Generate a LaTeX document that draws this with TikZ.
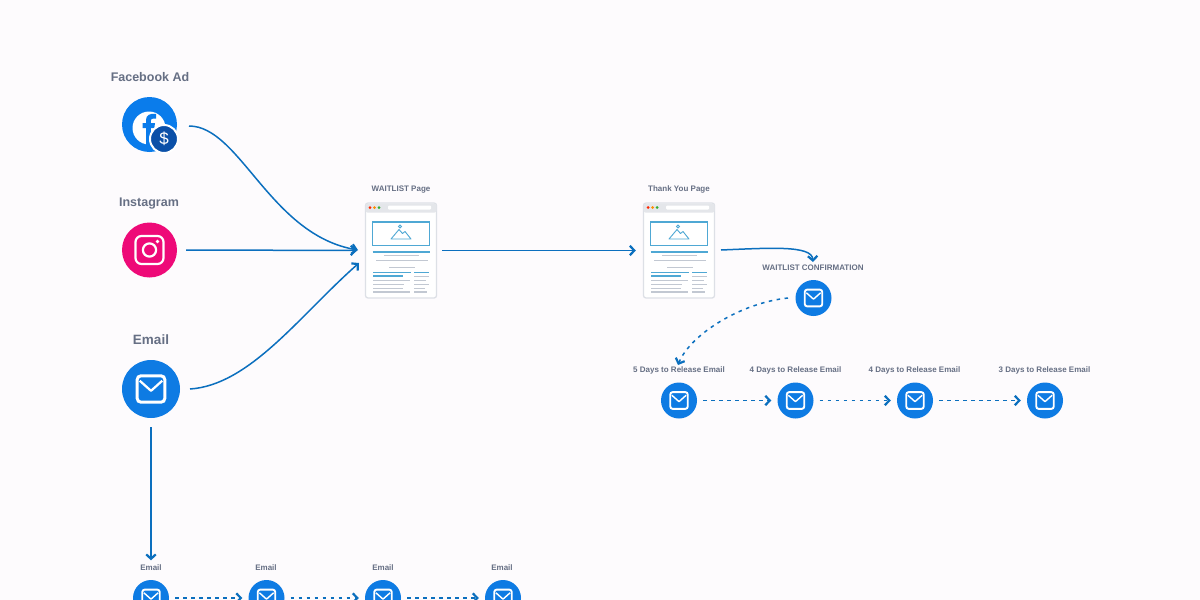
\documentclass[tikz,border=0pt]{standalone}
\usepackage{fontspec}
\setmainfont{Liberation Sans}
\usetikzlibrary{arrows.meta,calc}
\definecolor{bgc}{HTML}{FDFBFD}
\definecolor{fbblue}{HTML}{0A7CEB}
\definecolor{mailblue}{HTML}{0E7BE3}
\definecolor{linkc}{HTML}{0B6FBE}
\definecolor{darkb}{HTML}{0B50A8}
\definecolor{pinkc}{HTML}{EE0A78}
\definecolor{labelc}{HTML}{666F84}
\definecolor{greyl}{HTML}{C2C8D2}
\definecolor{pageb}{HTML}{DDE0E6}
\definecolor{pagebar}{HTML}{E4E6EA}
\definecolor{cyanl}{HTML}{4FA8D4}
\tikzset{
  x=1pt,y=-1pt,
  lab/.style={text=labelc,font=\bfseries\fontsize{#1}{#1}\selectfont,inner sep=0pt,anchor=center},
  lab/.default=8,
  mailc/.style={circle,fill=mailblue,draw=none,minimum size=#1,inner sep=0pt},
  conn/.style={draw=linkc,line width=1.5pt,-{Straight Barb[length=4.5pt,width=9.5pt,line width=2.2pt]}},
  dconn/.style={conn,dash pattern=on 3.5pt off 4.5pt},
  pagebox/.style={rectangle,rounded corners=2.5pt,draw=pageb,line width=1.3pt,fill=white,minimum width=71pt,minimum height=95pt,inner sep=0pt},
  hl/.style={draw=cyanl,line width=#1},
  hl/.default=2pt,
  gl/.style={draw=greyl,line width=1.3pt},
}
\newcommand{\mailicon}[3]{% x y half-width
  \begin{scope}[shift={(#1,#2)},scale=#3]
    \draw[white,line width=#3*0.2pt,rounded corners=#3*0.25pt,fill=none] (-0.92,-0.88) rectangle (0.92,0.88);
    \draw[white,line width=#3*0.15pt,line join=round] (-0.75,-0.55) -- (0,0.12) -- (0.75,-0.55);
  \end{scope}}
\newcommand{\pageicon}[2]{% centre x y
  \begin{scope}[shift={(#1,#2)}]
    \fill[pagebar,rounded corners=2pt] (-35.5,-47) rectangle (35.5,-38);
    \fill[red!70!orange] (-31,-43) circle (1.5);
    \fill[orange!90!yellow] (-26.5,-43) circle (1.5);
    \fill[green!60!black!80] (-22,-43) circle (1.5);
    \fill[white,rounded corners=1pt] (-13,-45) rectangle (30,-41);
    \draw[cyanl,line width=1.3pt,fill=white] (-28.5,-28.5) rectangle (28.5,-5);
    \draw[cyanl,line width=.9pt,line join=round] (-10,-11.5) -- (-2,-21) -- (1.5,-17) -- (4,-19) -- (10,-11.5) -- cycle;
    \draw[cyanl,line width=.8pt] (-1,-24) circle (1.5);
    \draw[hl] (-28.5,1) -- (28.5,1);
    \draw[gl] (-17,5) -- (18,5);
    \draw[gl] (-25,10) -- (27,10);
    \draw[gl] (-12,17) -- (14,17);
    \draw[hl,line width=1.4pt] (-28,22) -- (10,22);
    \draw[hl,line width=1.4pt] (13,22) -- (28,22);
    \draw[hl] (-28,25.5) -- (2,25.5);
    \draw[gl] (-28,30) -- (9,30);
    \draw[gl] (-28,34) -- (3,34);
    \draw[gl] (-28,38) -- (2,38);
    \draw[gl] (-28,41.5) -- (9,41.5);
    \draw[gl] (13,26) -- (28,26); \draw[gl] (13,30) -- (25,30);
    \draw[gl] (13,34) -- (28,34); \draw[gl] (13,38) -- (24,38); \draw[gl] (13,41.5) -- (26,41.5);
  \end{scope}}
\begin{document}
\begin{tikzpicture}
\useasboundingbox (0,0) rectangle (1200,600);
\fill[bgc] (0,0) rectangle (1200,600);

% sources
\node[lab=12.5] (fbl) at (150,77.5) {Facebook Ad};
\node[circle,fill=fbblue,minimum size=55pt,inner sep=0pt] (fb) at (149.5,124.5) {};
\fill[white] (149,128) circle (16.5);
\fill[fbblue] (146,146) -- (146,128) -- (142.5,128) -- (142.5,123) -- (146,123) -- (146,120)
  .. controls (146,115) and (150.5,113) .. (156,114) -- (156,118.5) -- (153.5,118.5)
  .. controls (151.5,118.5) and (150.8,119.5) .. (150.8,121) -- (150.8,123) -- (155,123) -- (154.3,128) -- (150.8,128) -- (150.8,146) -- cycle;
\node[circle,fill=darkb,draw=white,line width=2pt,minimum size=28pt,inner sep=0pt,text=white,font=\fontsize{17}{17}\selectfont] (usd) at (164,139) {\$};

\node[lab=12.5] (igl) at (149,203.5) {Instagram};
\node[circle,fill=pinkc,minimum size=55pt,inner sep=0pt] (ig) at (149.5,250) {};
\draw[white,line width=2.2pt,rounded corners=6pt] (135.5,236) rectangle (163.5,264);
\draw[white,line width=2.2pt] (149.5,250) circle (6.6);
\fill[white] (157.5,241.5) circle (1.8);

\node[lab=13.5] (eml) at (151,339.5) {Email};
\node[mailc=58pt] (em) at (151,389) {};
\mailicon{151}{389}{15}

% pages
\node[lab=8] (wll) at (401,189.5) {WAITLIST Page};
\node[pagebox] (wl) at (401,250.5) {};
\pageicon{401}{250.5}
\node[lab=8] (tyl) at (679,189.5) {Thank You Page};
\node[pagebox] (ty) at (679,250.5) {};
\pageicon{679}{250.5}

% confirmation
\node[lab=8] (wcl) at (813,268) {WAITLIST CONFIRMATION};
\node[mailc=36pt] (wc) at (813.5,298) {};
\mailicon{813.5}{298}{9.5}

% release row
\node[lab=8] (r1l) at (679,370) {5 Days to Release Email};
\node[mailc=36pt] (r1) at (679,400.5) {};
\mailicon{679}{400.5}{9.5}
\node[lab=8] (r2l) at (795.5,370) {4 Days to Release Email};
\node[mailc=36pt] (r2) at (795.5,400.5) {};
\mailicon{795.5}{400.5}{9.5}
\node[lab=8] (r3l) at (914.5,370) {4 Days to Release Email};
\node[mailc=36pt] (r3) at (915,400.5) {};
\mailicon{915}{400.5}{9.5}
\node[lab=8] (r4l) at (1044.5,370) {3 Days to Release Email};
\node[mailc=36pt] (r4) at (1045,400.5) {};
\mailicon{1045}{400.5}{9.5}

% bottom row
\node[lab=8] (b1l) at (151,567.5) {Email};
\node[mailc=36pt] (b1) at (151,598) {};
\mailicon{151}{598}{9.5}
\node[lab=8] (b2l) at (266,567.5) {Email};
\node[mailc=36pt] (b2) at (266.5,598) {};
\mailicon{266.5}{598}{9.5}
\node[lab=8] (b3l) at (383,567.5) {Email};
\node[mailc=36pt] (b3) at (383,598) {};
\mailicon{383}{598}{9.5}
\node[lab=8] (b4l) at (502,567.5) {Email};
\node[mailc=36pt] (b4) at (503,598) {};
\mailicon{503}{598}{9.5}

% connector ends
\coordinate (fbs) at (189,126);
\coordinate (ems) at (190,389);
\coordinate (wlin) at (358,250);
\coordinate (wlin2) at (359,263);
\coordinate (tys) at (721,250);
\coordinate (wct) at (813,262);
\coordinate (wcs) at (788,298);
\coordinate (r1t) at (678,365);

\draw[conn] (fbs) .. controls (240,126) and (270,235) .. (wlin);
\draw[conn,shorten <=9pt,shorten >=8pt] (ig) -- (wl);
\draw[conn] (ems) .. controls (250,385) and (300,315) .. (wlin2);
\draw[conn,shorten <=5pt,shorten >=7pt] (wl) -- (ty);
\draw[conn] (tys) .. controls (770,248) and (812,245) .. (wct);
\draw[dconn] (wcs) .. controls (740,303) and (690,335) .. (r1t);
\draw[conn,shorten <=9pt,shorten >=4pt] (em) -- (b1l);
\foreach \a/\b in {r1/r2,r2/r3,r3/r4}
  \draw[dconn,shorten <=6pt,shorten >=6pt] (\a) -- (\b);
\foreach \a/\b in {b1/b2,b2/b3,b3/b4}
  \draw[dconn,shorten <=6pt,shorten >=6pt] (\a) -- (\b);
\end{tikzpicture}
\end{document}
